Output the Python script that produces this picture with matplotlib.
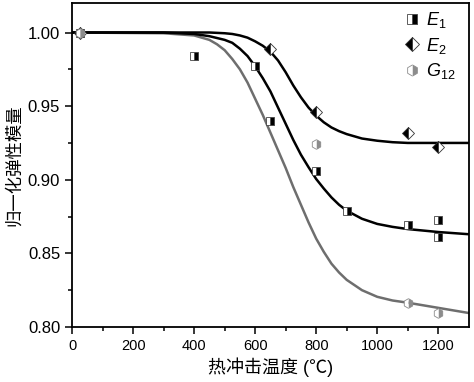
import numpy as np
import matplotlib.pyplot as plt

plt.rcParams['font.family'] = ['Liberation Sans', 'Noto Sans CJK SC']
plt.rcParams['mathtext.fontset'] = 'custom'
plt.rcParams['mathtext.rm'] = 'Liberation Sans'
plt.rcParams['mathtext.it'] = 'Liberation Sans:italic'

# measured points
e1_x = [25, 400, 600, 650, 800, 900, 1100, 1200, 1200]
e1_y = [1.0, 0.984, 0.977, 0.940, 0.906, 0.879, 0.869, 0.873, 0.861]
e2_x = [25, 650, 800, 1100, 1200]
e2_y = [1.0, 0.989, 0.946, 0.932, 0.922]
g12_x = [25, 800, 1100, 1200]
g12_y = [1.0, 0.9245, 0.816, 0.8095]

# fitted curves
fit_e1_x = [0, 300, 400, 450, 500, 525, 550, 575, 600, 625, 650, 675, 700, 725, 750, 775,
            800, 825, 850, 875, 900, 950, 1000, 1050, 1100, 1200, 1300]
fit_e1_y = [1.0, 1.0, 0.999, 0.9975, 0.995, 0.993, 0.989, 0.984, 0.977, 0.969, 0.960, 0.949,
            0.938, 0.927, 0.917, 0.9085, 0.9005, 0.894, 0.888, 0.883, 0.879, 0.8735, 0.870,
            0.868, 0.8665, 0.8645, 0.863]
fit_e2_x = [0, 450, 500, 525, 550, 575, 600, 625, 650, 675, 700, 725, 750, 775, 800, 825,
            850, 875, 900, 950, 1000, 1050, 1100, 1300]
fit_e2_y = [1.0, 1.0, 0.9995, 0.999, 0.998, 0.9965, 0.994, 0.991, 0.987, 0.981, 0.973, 0.964,
            0.956, 0.949, 0.9435, 0.939, 0.9355, 0.933, 0.931, 0.928, 0.9265, 0.9255, 0.925, 0.925]
fit_g12_x = [0, 300, 400, 450, 475, 500, 525, 550, 575, 600, 625, 650, 675, 700, 725, 750,
             775, 800, 825, 850, 875, 900, 950, 1000, 1050, 1100, 1200, 1300]
fit_g12_y = [1.0, 0.9995, 0.998, 0.995, 0.992, 0.988, 0.982, 0.975, 0.966, 0.955, 0.944, 0.932,
             0.920, 0.908, 0.895, 0.883, 0.871, 0.860, 0.851, 0.843, 0.837, 0.832, 0.825,
             0.8205, 0.818, 0.8165, 0.813, 0.8095]

fig = plt.figure(figsize=(4.74, 3.82), dpi=100)
ax = fig.add_axes([0.152, 0.144, 0.837, 0.848])

ax.plot(fit_g12_x, fit_g12_y, color='#6e6e6e', lw=1.8, solid_joinstyle='round')
ax.plot(fit_e1_x, fit_e1_y, color='black', lw=1.8, solid_joinstyle='round')
ax.plot(fit_e2_x, fit_e2_y, color='black', lw=1.8, solid_joinstyle='round')

ax.plot(e1_x, e1_y, 's', ms=6, fillstyle='right', color='black',
        markerfacecoloralt='white', mec='#444444', mew=0.6, label='$\\mathit{E}_1$', zorder=5)
ax.plot(e2_x, e2_y, 'D', ms=6, fillstyle='left', color='black',
        markerfacecoloralt='white', mec='#333333', mew=0.6, label='$\\mathit{E}_2$', zorder=5)
ax.plot(g12_x, g12_y, 'h', ms=7, fillstyle='right', color='#8c8c8c',
        markerfacecoloralt='white', mec='#8c8c8c', mew=0.6, label='$\\mathit{G}_{12}$', zorder=5)

ax.set_xlim(0, 1300)
ax.set_ylim(0.80, 1.02)
ax.set_xticks([0, 200, 400, 600, 800, 1000, 1200])
ax.set_xticks(np.arange(100, 1300, 200), minor=True)
ax.set_yticks([0.80, 0.85, 0.90, 0.95, 1.00])
ax.set_yticks([0.825, 0.875, 0.925, 0.975], minor=True)
ax.yaxis.set_major_formatter(plt.FormatStrFormatter('%.2f'))
ax.tick_params(which='both', direction='out', width=1.1)
ax.tick_params(axis='x', labelsize=10.5)
ax.tick_params(axis='y', labelsize=12)
ax.tick_params(which='major', length=5)
ax.tick_params(which='minor', length=3)
for s in ax.spines.values():
    s.set_linewidth(1.3)

ax.set_xlabel('热冲击温度 (℃)', fontsize=13, labelpad=3)
ax.set_ylabel('归一化弹性模量', fontsize=12.5, labelpad=4)

ax.legend(loc='upper right', frameon=False, fontsize=13, handletextpad=0.2,
          labelspacing=0.3, borderaxespad=0.0, handlelength=1.2,
          bbox_to_anchor=(0.985, 1.0), markerscale=1.15)

fig.savefig('out.png', dpi=100)
